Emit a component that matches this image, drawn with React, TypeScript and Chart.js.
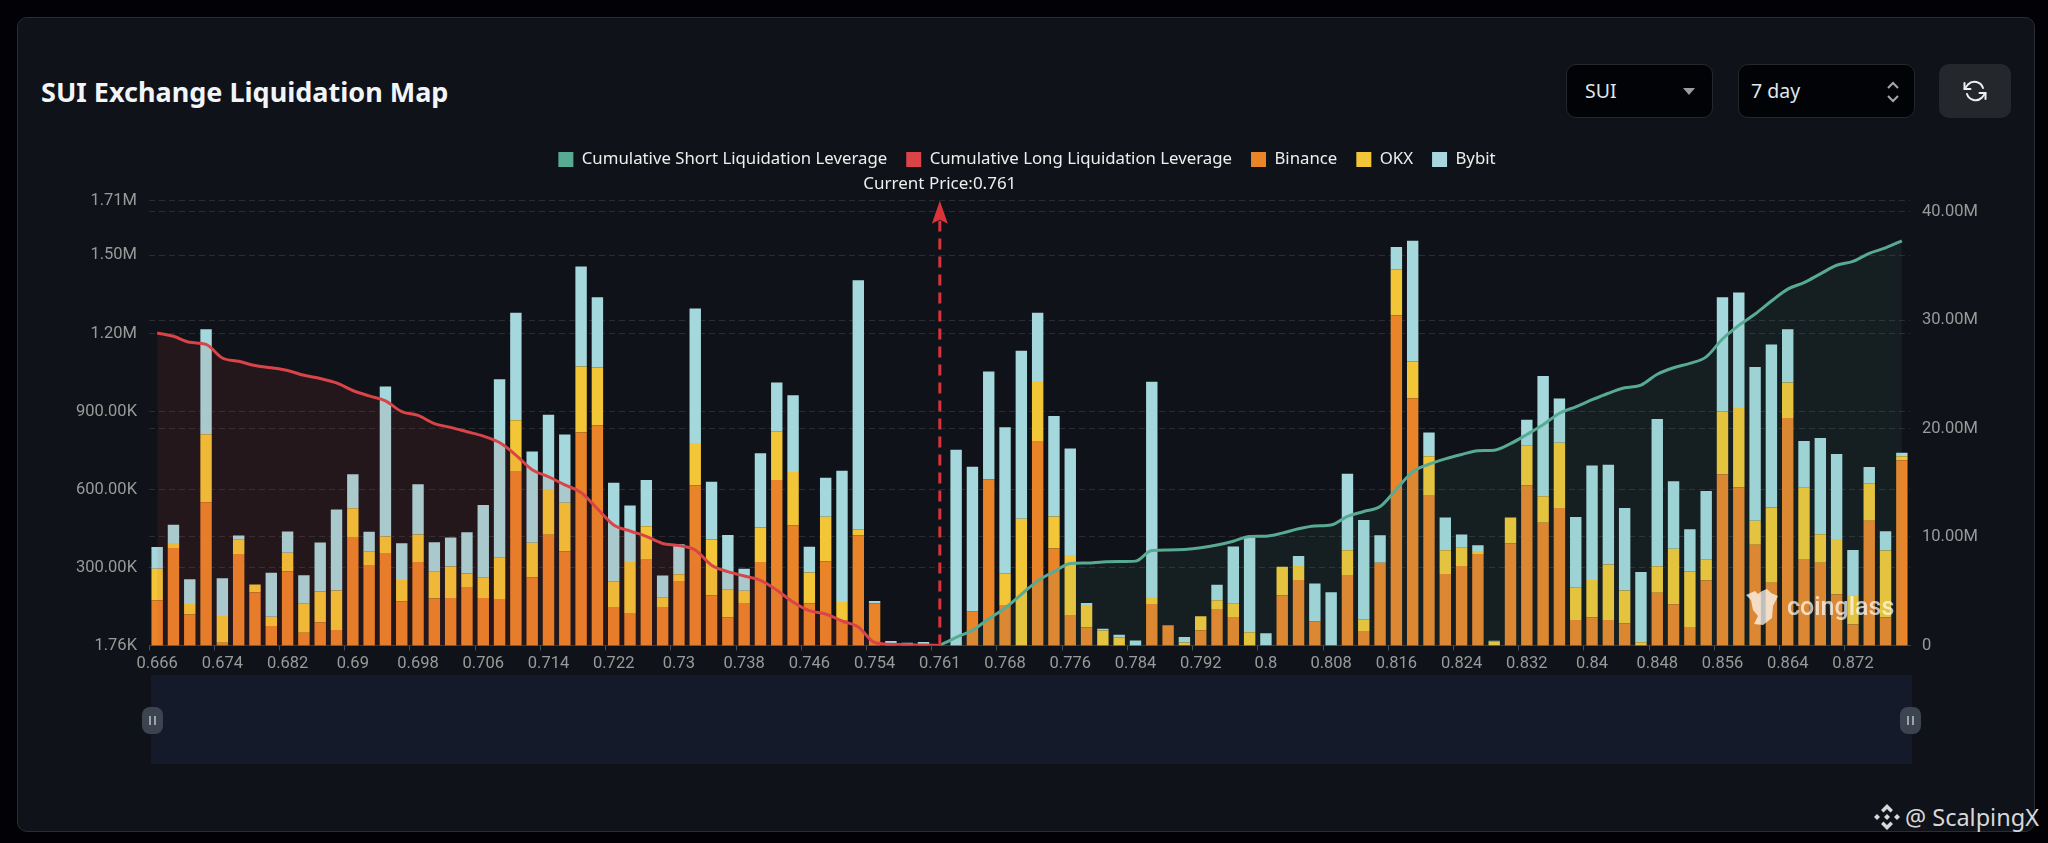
import React, { useEffect, useRef } from 'react';
import { Chart, registerables, Plugin } from 'chart.js';

Chart.register(...registerables);

const priceLabels = [
    '0.666', '0.668', '0.67', '0.672', '0.674', '0.676', '0.678', '0.68', '0.682', '0.684', '0.686', '0.688',
    '0.69', '0.692', '0.694', '0.696', '0.698', '0.7', '0.702', '0.704', '0.706', '0.708', '0.71', '0.712',
    '0.714', '0.716', '0.718', '0.72', '0.722', '0.724', '0.726', '0.728', '0.73', '0.732', '0.734', '0.736',
    '0.738', '0.74', '0.742', '0.744', '0.746', '0.748', '0.75', '0.752', '0.754', '0.756', '0.758', '0.76',
    '0.761', '0.763', '0.765', '0.766', '0.768', '0.77', '0.772', '0.774', '0.776', '0.778', '0.78', '0.782',
    '0.784', '0.786', '0.788', '0.79', '0.792', '0.794', '0.796', '0.798', '0.8', '0.802', '0.804', '0.806',
    '0.808', '0.81', '0.812', '0.814', '0.816', '0.818', '0.82', '0.822', '0.824', '0.826', '0.828', '0.83',
    '0.832', '0.834', '0.836', '0.838', '0.84', '0.842', '0.844', '0.846', '0.848', '0.85', '0.852', '0.854',
    '0.856', '0.858', '0.86', '0.862', '0.864', '0.866', '0.868', '0.87', '0.872', '0.874', '0.876', '0.878',
];

// exchange values, in thousands
const binance = [
    175, 376, 120, 552, 12, 353, 206, 76, 287, 50, 91, 61,
    415, 308, 357, 171, 322, 182, 184, 223, 184, 180, 669, 264,
    427, 363, 821, 847, 149, 123, 331, 149, 249, 617, 194, 110,
    165, 322, 637, 462, 163, 324, 99, 425, 164, 3, 4, 3,
    0, 0, 132, 640, 157, 0, 784, 374, 116, 71, 0, 0,
    0, 161, 79, 3, 60, 142, 108, 0, 3, 194, 253, 95,
    3, 272, 57, 319, 1270, 951, 577, 276, 307, 353, 3, 394,
    617, 473, 530, 99, 109, 99, 87, 0, 204, 160, 72, 252,
    659, 608, 388, 242, 875, 331, 319, 197, 82, 481, 109, 713,
];
const okx = [
    121, 19, 41, 261, 103, 55, 30, 36, 71, 114, 118, 152,
    114, 55, 63, 82, 106, 103, 121, 55, 80, 158, 198, 132,
    176, 187, 252, 222, 99, 199, 128, 36, 26, 162, 215, 106,
    47, 133, 187, 206, 119, 172, 69, 23, 0, 0, 0, 0,
    0, 0, 0, 0, 122, 488, 233, 123, 233, 86, 59, 32,
    0, 27, 0, 10, 54, 33, 54, 52, 0, 110, 54, 0,
    0, 95, 45, 0, 177, 141, 151, 91, 70, 11, 14, 99,
    152, 102, 250, 126, 144, 214, 126, 14, 102, 213, 214, 81,
    241, 306, 93, 289, 137, 276, 110, 213, 113, 144, 257, 15,
];
const bybit = [
    84, 70, 95, 403, 145, 16, 0, 169, 81, 107, 188, 311,
    130, 75, 576, 141, 193, 113, 111, 158, 277, 686, 413, 351,
    285, 262, 384, 270, 379, 217, 178, 85, 115, 517, 221, 210,
    84, 285, 188, 295, 99, 150, 505, 956, 8, 16, 8, 12,
    0, 753, 556, 414, 561, 646, 263, 386, 409, 8, 7, 11,
    21, 827, 0, 21, 0, 60, 220, 364, 45, 0, 38, 145,
    203, 294, 381, 106, 85, 464, 92, 126, 51, 22, 3, 0,
    100, 462, 170, 270, 440, 383, 317, 270, 565, 259, 162, 262,
    439, 443, 590, 627, 204, 180, 369, 327, 173, 62, 74, 14,
];

// cumulative leverage, in millions
const longCumulative = [
    28.8, 28.5, 27.95, 27.75, 26.5, 26.2, 25.8, 25.6, 25.35, 24.9, 24.6, 24.2,
    23.5, 23.0, 22.55, 21.55, 21.2, 20.45, 20.1, 19.7, 19.3, 18.7, 17.55, 16.2,
    15.55, 14.8, 14.1, 12.6, 11.1, 10.55, 10.05, 9.4, 9.2, 8.8, 7.4, 6.8,
    6.4, 6.0, 5.1, 4.0, 3.2, 2.9, 2.25, 1.7, 0.27, 0.1, 0.05, 0.03, 0,
];
const shortCumulative = [
    0, 0.75, 1.4, 2.45, 3.45, 4.7, 5.95, 6.8, 7.55, 7.6, 7.7, 7.73,
    7.77, 8.75, 8.8, 8.85, 9.0, 9.25, 9.6, 10.05, 10.07, 10.35, 10.75, 11.0,
    11.1, 11.9, 12.35, 12.8, 14.4, 16.0, 16.7, 17.2, 17.6, 17.95, 18.0, 18.6,
    19.45, 20.35, 21.4, 22.0, 22.65, 23.25, 23.75, 24.0, 25.0, 25.6, 26.0, 26.6,
    28.25, 29.5, 30.55, 31.75, 32.85, 33.45, 34.25, 35.05, 35.4, 36.15, 36.65, 37.3,
];

const leftTickValues = [1.76, 300, 600, 900, 1200, 1500, 1710];
const leftTickLabels = ['1.76K', '300.00K', '600.00K', '900.00K', '1.20M', '1.50M', '1.71M'];
const rightTickValues = [0, 10, 20, 30, 40];
const rightTickLabels = ['0', '10.00M', '20.00M', '30.00M', '40.00M'];

const currentPrice = '0.761';
const shortStart = priceLabels.indexOf(currentPrice);

const legendGap: Plugin = {
    id: 'legendGap',
    beforeInit(chart) {
        const legend: any = chart.legend;
        const fit = legend.fit;
        legend.fit = function () {
            fit.call(legend);
            legend.height = 68.7;
        };
    },
};

const currentPriceMarker: Plugin = {
    id: 'currentPriceMarker',
    afterDatasetsDraw(chart) {
        const { ctx, chartArea, scales } = chart;
        const x = scales.x.getPixelForValue(shortStart);
        ctx.save();
        ctx.strokeStyle = '#d8343a';
        ctx.fillStyle = '#d8343a';
        ctx.lineWidth = 3;
        ctx.setLineDash([11, 7]);
        ctx.beginPath();
        ctx.moveTo(x, chartArea.bottom);
        ctx.lineTo(x, chartArea.top + 20);
        ctx.stroke();
        ctx.setLineDash([]);
        ctx.beginPath();
        ctx.moveTo(x, chartArea.top);
        ctx.lineTo(x + 8, chartArea.top + 23);
        ctx.lineTo(x, chartArea.top + 19);
        ctx.lineTo(x - 8, chartArea.top + 23);
        ctx.closePath();
        ctx.fill();
        ctx.fillStyle = '#eeeeee';
        ctx.font = '17px "Noto Sans"';
        ctx.textAlign = 'center';
        ctx.textBaseline = 'middle';
        ctx.fillText('Current Price:' + currentPrice, x, chartArea.top - 17);
        ctx.restore();
    },
};

function LiquidationChart() {
    const canvasRef = useRef<HTMLCanvasElement>(null);

    useEffect(() => {
        if (!canvasRef.current) return;
        const gridColor = 'rgba(255, 255, 255, 0.11)';
        const tickFont = { family: 'Roboto', size: 16.5 };
        const chart = new Chart(canvasRef.current, {
            type: 'bar',
            data: {
                labels: priceLabels,
                datasets: [
                    {
                        type: 'line',
                        label: 'Cumulative Short Liquidation Leverage',
                        data: priceLabels.map((_, i) => (i >= shortStart ? shortCumulative[i - shortStart] : null)),
                        yAxisID: 'y1',
                        borderColor: '#58aa93',
                        backgroundColor: '#58aa93',
                        borderWidth: 3,
                        pointRadius: 0,
                        cubicInterpolationMode: 'monotone',
                        fill: { target: 'origin', above: 'rgba(88, 170, 147, 0.09)' },
                        order: 0,
                    },
                    {
                        type: 'line',
                        label: 'Cumulative Long Liquidation Leverage',
                        data: priceLabels.map((_, i) => (i < longCumulative.length ? longCumulative[i] : null)),
                        yAxisID: 'y1',
                        borderColor: '#d84447',
                        backgroundColor: '#d84447',
                        borderWidth: 3,
                        pointRadius: 0,
                        cubicInterpolationMode: 'monotone',
                        fill: { target: 'origin', above: 'rgba(216, 68, 71, 0.1)' },
                        order: 0,
                    },
                    { label: 'Binance', data: binance, backgroundColor: '#e98428', stack: 'ex', order: 1 },
                    { label: 'OKX', data: okx, backgroundColor: '#f2c636', stack: 'ex', order: 1 },
                    { label: 'Bybit', data: bybit, backgroundColor: '#a5d8dc', stack: 'ex', order: 1 },
                ],
            },
            options: {
                animation: false,
                responsive: false,
                barPercentage: 0.7,
                categoryPercentage: 1,
                layout: { padding: 0 },
                plugins: {
                    tooltip: { enabled: false },
                    legend: {
                        position: 'top',
                        labels: {
                            color: '#eeeeee',
                            boxWidth: 15,
                            boxHeight: 15,
                            padding: 19,
                            font: { family: 'Noto Sans', size: 16.8 },
                            generateLabels: (c: Chart) =>
                                Chart.defaults.plugins.legend.labels
                                    .generateLabels(c)
                                    .map(item => ({ ...item, lineWidth: 0 })),
                        },
                    },
                },
                scales: {
                    x: {
                        stacked: true,
                        afterFit: scale => {
                            scale.height = 34.6;
                        },
                        grid: {
                            offset: true,
                            drawOnChartArea: false,
                            tickLength: 5,
                            tickColor: c => (c.index % 4 === 0 ? '#4a4d52' : 'transparent'),
                        },
                        border: { color: '#3a3d42' },
                        ticks: {
                            autoSkip: false,
                            maxRotation: 0,
                            color: '#9a9a9a',
                            font: tickFont,
                            padding: 4,
                            callback: (_, i) => (i % 4 === 0 ? priceLabels[i] : ''),
                        },
                    },
                    y: {
                        stacked: true,
                        position: 'left',
                        min: leftTickValues[0],
                        max: leftTickValues[leftTickValues.length - 1],
                        afterFit: scale => {
                            scale.width = 87;
                        },
                        afterBuildTicks: scale => {
                            scale.ticks = leftTickValues.map(value => ({ value }));
                        },
                        grid: { color: gridColor, drawTicks: false },
                        border: { display: false, dash: [6, 4] },
                        ticks: {
                            color: '#9a9a9a',
                            font: tickFont,
                            padding: 12,
                            callback: value => leftTickLabels[leftTickValues.indexOf(Number(value))],
                        },
                    },
                    y1: {
                        position: 'right',
                        min: 0,
                        max: 41,
                        afterFit: scale => {
                            scale.width = 82;
                        },
                        afterBuildTicks: scale => {
                            scale.ticks = rightTickValues.map(value => ({ value }));
                        },
                        grid: { color: gridColor, drawTicks: false },
                        border: { display: false, dash: [6, 4] },
                        ticks: {
                            color: '#9a9a9a',
                            font: tickFont,
                            padding: 12,
                            callback: value => rightTickLabels[rightTickValues.indexOf(Number(value))],
                        },
                    },
                },
            },
            plugins: [legendGap, currentPriceMarker],
        });

        return () => {
            chart.destroy();
        };
    }, []);

    return (
        <canvas
            ref={canvasRef}
            width={1930}
            height={548}
            style={{ position: 'absolute', left: 62, top: 132 }}
        />
    );
}

const selectStyle: React.CSSProperties = {
    position: 'absolute',
    top: 64,
    height: 54,
    boxSizing: 'border-box',
    background: '#020306',
    border: '1px solid #24272c',
    borderRadius: 10,
    color: '#dfe8ee',
    font: '19.5px "Noto Sans"',
    lineHeight: '52px',
};

function SliderHandle({ left }: { left: number }) {
    return (
        <div
            style={{
                position: 'absolute',
                left,
                top: 707,
                width: 21,
                height: 27,
                borderRadius: 8,
                background: '#3c444f',
            }}
        >
            <div style={{ position: 'absolute', left: 7, top: 9, width: 2, height: 9, background: '#9aa3ad' }} />
            <div style={{ position: 'absolute', left: 12, top: 9, width: 2, height: 9, background: '#9aa3ad' }} />
        </div>
    );
}

export default function App() {
    return (
        <div
            style={{
                position: 'absolute',
                left: 0,
                top: 0,
                width: 2048,
                height: 843,
                overflow: 'hidden',
                background: '#020206',
            }}
        >
            <div
                style={{
                    position: 'absolute',
                    left: 17,
                    top: 17,
                    width: 2018,
                    height: 815,
                    boxSizing: 'border-box',
                    background: '#0f1218',
                    border: '1px solid #2a2d32',
                    borderRadius: 10,
                }}
            />
            <div
                style={{
                    position: 'absolute',
                    left: 41,
                    top: 72,
                    color: '#f2f5f8',
                    font: 'bold 27px "Noto Sans"',
                    lineHeight: '40px',
                }}
            >
                SUI Exchange Liquidation Map
            </div>

            <div style={{ ...selectStyle, left: 1566, width: 147, paddingLeft: 18 }}>
                SUI
                <svg style={{ position: 'absolute', left: 115, top: 22 }} width="14" height="9">
                    <path d="M1 1 H13 L7 8 Z" fill="#9a9ea3" />
                </svg>
            </div>
            <div style={{ ...selectStyle, left: 1738, width: 177, paddingLeft: 12 }}>
                7 day
                <svg style={{ position: 'absolute', left: 147, top: 16 }} width="14" height="22" fill="none" stroke="#a4a8ad" strokeWidth="2">
                    <path d="M2 7 L7 2 L12 7" />
                    <path d="M2 15 L7 20 L12 15" />
                </svg>
            </div>
            <div style={{ position: 'absolute', left: 1939, top: 64, width: 72, height: 54, background: '#24272b', borderRadius: 10 }}>
                <svg style={{ position: 'absolute', left: 24, top: 15 }} width="24" height="24" viewBox="0 0 24 24" fill="none" stroke="#eef0f2" strokeWidth="2" strokeLinecap="round" strokeLinejoin="round">
                    <path d="M1.5 4 V10 H7.5" />
                    <path d="M22.5 20 V14 H16.5" />
                    <path d="M20 9 A9 9 0 0 0 5 5.5 L1.5 10 M22.5 14 L19 18.5 A9 9 0 0 1 4 15" />
                </svg>
            </div>

            <LiquidationChart />

            {/* coinglass watermark */}
            <svg style={{ position: 'absolute', left: 1745, top: 588, opacity: 0.72 }} width="34" height="38" viewBox="0 0 34 38">
                <path d="M1 7 L10 3 L13 6 L17 3 L22 1 L26 5 L33 8 L28 18 L27 30 L18 37 L9 36 L13 28 L8 22 L6 12 Z" fill="#ffffff" />
            </svg>
            <div
                style={{
                    position: 'absolute',
                    left: 1787,
                    top: 590,
                    color: 'rgba(255, 255, 255, 0.7)',
                    font: '500 25px Roboto',
                    lineHeight: '34px',
                }}
            >
                coinglass
            </div>

            {/* range slider */}
            <div style={{ position: 'absolute', left: 151, top: 675, width: 1761, height: 89, background: '#141a2a' }} />
            <SliderHandle left={142} />
            <SliderHandle left={1900} />

            {/* footer credit */}
            <svg style={{ position: 'absolute', left: 1873, top: 803 }} width="28" height="28" viewBox="0 0 28 28" fill="#d8d8d8">
                <path d="M14 1 L20 7 L17.5 9.5 L14 6 L10.5 9.5 L8 7 Z" />
                <path d="M14 27 L20 21 L17.5 18.5 L14 22 L10.5 18.5 L8 21 Z" />
                <path d="M14 11 L17 14 L14 17 L11 14 Z" />
                <path d="M4 11 L7 14 L4 17 L1 14 Z" />
                <path d="M24 11 L27 14 L24 17 L21 14 Z" />
            </svg>
            <div
                style={{
                    position: 'absolute',
                    left: 1905,
                    top: 800,
                    color: '#d8d8d8',
                    font: '23.5px "Noto Sans"',
                    lineHeight: '34px',
                    whiteSpace: 'nowrap',
                }}
            >
                @ ScalpingX
            </div>
        </div>
    );
}
